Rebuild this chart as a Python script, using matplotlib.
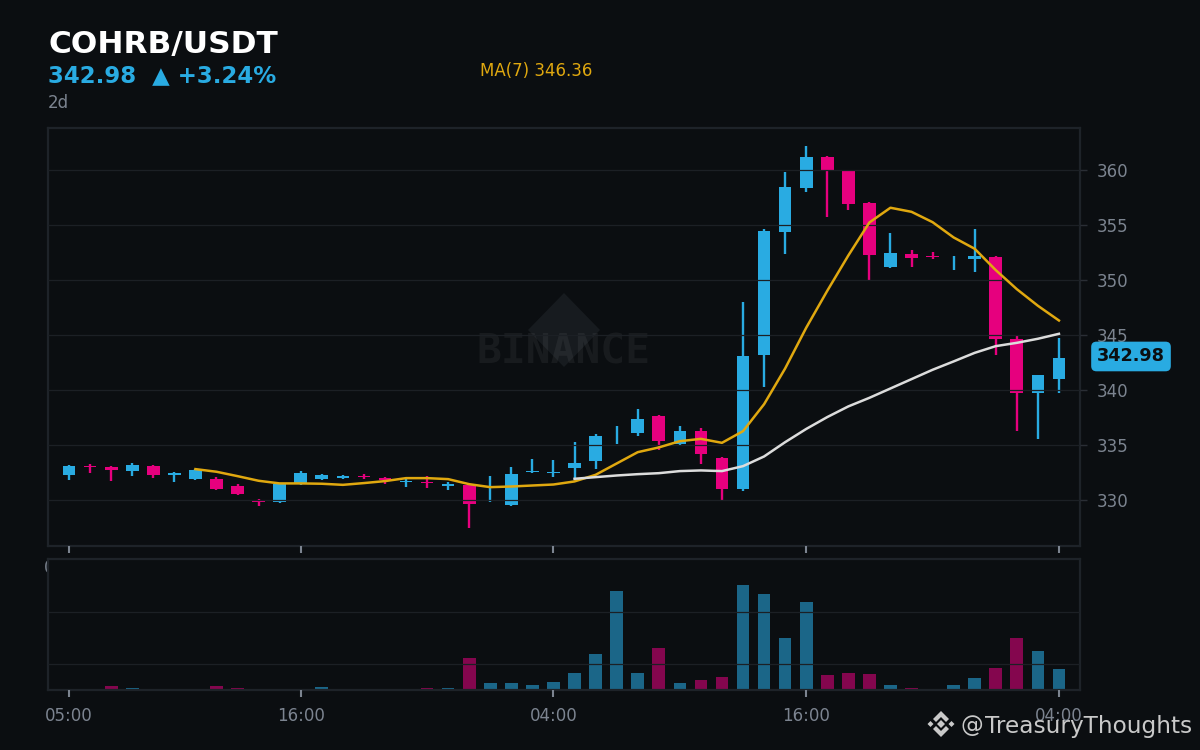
import matplotlib
matplotlib.use("Agg")
import matplotlib.pyplot as plt
from matplotlib.patches import Polygon
from matplotlib.transforms import Affine2D, blended_transform_factory

opens = [332.30,333.12,333.03,332.67,333.12,332.30,331.94,331.94,331.30,329.94,
         329.85,331.58,331.94,332.03,332.18,332.03,331.70,331.67,331.30,331.36,
         331.25,329.58,332.58,332.52,332.94,333.58,335.90,336.12,337.67,335.12,
         336.30,333.85,331.00,343.18,354.39,358.39,361.21,359.94,357.03,351.21,
         352.39,352.21,352.16,351.94,352.12,344.64,339.73,341.00]
closes = [333.12,333.06,332.76,333.21,332.30,332.48,332.76,331.03,330.58,329.88,
          331.48,332.48,332.30,332.21,332.12,331.85,331.76,331.61,331.48,329.67,
          331.25,332.39,332.64,332.58,333.39,335.85,335.90,337.39,335.39,336.30,
          334.21,331.03,343.09,354.48,358.48,361.21,360.03,356.94,352.30,352.48,
          352.03,352.12,352.16,352.21,344.64,339.76,341.36,342.98]
highs = [333.21,333.30,333.12,333.39,333.21,332.58,332.85,332.12,331.48,330.12,
         331.50,332.67,332.39,332.30,332.39,332.12,331.94,332.21,331.67,331.40,
         332.21,333.03,333.76,333.67,335.30,336.03,336.76,338.30,337.76,336.76,
         336.58,333.94,348.00,354.67,359.85,362.21,361.30,360.03,357.12,354.30,
         352.76,352.58,352.21,354.67,352.20,344.91,341.45,344.73]
lows = [331.85,332.48,331.76,332.21,332.03,331.67,331.85,330.94,330.48,329.48,
        329.76,331.39,331.85,331.94,331.94,331.48,331.21,331.12,330.94,327.48,
        329.85,329.48,332.48,332.12,331.94,332.85,335.12,335.85,334.58,335.03,
        333.30,330.03,330.90,340.27,352.39,358.03,355.76,356.39,350.03,351.12,
        351.21,351.94,350.94,350.76,343.18,336.36,335.55,339.73]
ma7 = [332.85,332.61,332.21,331.79,331.55,331.55,331.52,331.42,331.58,331.76,
       332.03,332.03,331.94,331.48,331.21,331.27,331.36,331.45,331.73,332.33,
       333.36,334.39,334.82,335.39,335.60,335.24,336.30,338.75,342.00,345.70,
       349.06,352.27,355.27,356.61,356.24,355.30,353.91,352.88,350.94,349.21,
       347.70,346.36]
ma25 = [331.97,332.12,332.27,332.39,332.48,332.67,332.73,332.67,333.12,334.00,
        335.30,336.50,337.58,338.55,339.33,340.18,341.03,341.88,342.64,343.42,
        344.03,344.33,344.70,345.15]
volumes = [0.7,0.3,3.5,1.5,0.3,0.5,0.1,3.5,1.5,0.1,
           0.3,0.5,2.5,0.1,0.1,0.1,0.5,1.3,1.3,31.3,
           6.3,6.3,4.3,7.3,16.3,35.3,98.3,16.3,41.3,6.3,
           9.3,12.3,104.3,95.3,51.3,87.3,14.3,16.3,15.3,4.3,
           1.3,0.3,4.3,11.3,21.3,51.3,38.3,20.3]
price_ticks = [330,335,340,345,350,355,360]
volume_grid = [25.2,77.2]
time_positions = [0,11,23,35,47]
time_labels = ["05:00","16:00","04:00","16:00","04:00"]

BG = "#0b0e11"
BLUE = "#29abe2"
PINK = "#e6007e"
VBLUE = "#1b6688"
VPINK = "#84064e"
GRID = "#1c2025"
SPINE = "#1e2329"
MUTED = "#7c8490"
YEL = "#e0a80f"
W, H = 1200, 750

fig = plt.figure(figsize=(12, 7.5), dpi=100, facecolor=BG)
ax = fig.add_axes([48/W, 1-546/H, 1032/W, 418/H], facecolor=BG)
vax = fig.add_axes([48/W, 1-690/H, 1032/W, 131/H], facecolor=BG)

xs = list(range(len(closes)))
up = [c >= o for o, c in zip(opens, closes)]
cols = [BLUE if u else PINK for u in up]

ax.vlines(xs, lows, highs, colors=cols, linewidth=1.7, zorder=2)
ax.bar(xs, [abs(c-o) for o, c in zip(opens, closes)],
       bottom=[min(o, c) for o, c in zip(opens, closes)],
       width=0.6, color=cols, linewidth=0, zorder=2.1)
ax.plot(xs[6:], ma7, color=YEL, lw=1.8, zorder=3)
ax.plot(xs[24:], ma25, color="#dcdcdc", lw=1.8, zorder=3.1)

ax.set_xlim(-1, 48)
ax.set_ylim(325.86, 363.86)
ax.yaxis.tick_right()
ax.set_yticks(price_ticks)
ax.set_xticks(time_positions)
ax.set_xticklabels([])
ax.set_axisbelow(False)
ax.grid(axis="y", color=GRID, lw=0.9, zorder=2.5)
ax.tick_params(axis="y", colors=MUTED, labelsize=12, length=5, width=1.0, pad=7, color="#2a2e35")
ax.tick_params(axis="x", color=MUTED, length=5, width=1.5)

vcols = [VBLUE if u else VPINK for u in up]
vax.bar(xs, volumes, width=0.6, color=vcols, linewidth=0, zorder=2)
vax.set_xlim(-1, 48)
vax.set_ylim(-0.7, 130.3)
vax.set_yticks(volume_grid)
vax.set_yticklabels([])
vax.set_xticks(time_positions)
vax.set_xticklabels(time_labels)
vax.set_axisbelow(False)
vax.grid(axis="y", color=GRID, lw=0.9, zorder=2.5)
vax.tick_params(axis="y", length=0)
vax.tick_params(axis="x", colors=MUTED, labelsize=12, length=5, width=1.5, pad=7)

for a in (ax, vax):
    for s in a.spines.values():
        s.set_color(SPINE)
        s.set_linewidth(1.6)

px = Affine2D().scale(1/W, -1/H).translate(0, 1) + fig.transFigure

# watermark
ax.add_patch(Polygon([(564, 293), (600, 330), (564, 367), (528, 330)], closed=True,
                     transform=px, facecolor="#171b1f", edgecolor="none", zorder=0.5, clip_on=False))
ax.text(564, 352, "BINANCE", transform=px, family="DejaVu Sans Mono", weight="bold", fontsize=29.7,
        color="#ffffff", alpha=0.055, ha="center", va="center", zorder=1)

# header
fig.text(49/W, 1-53/H, "COHRB/USDT", color="white", fontsize=22.5, weight="bold", va="baseline")
fig.text(48/W, 1-82/H, "342.98  \u25b2 +3.24%", color=BLUE, fontsize=16.5, weight="bold", va="baseline")
fig.text(48/W, 1-108/H, "2d", color=MUTED, fontsize=12, va="baseline")
fig.text(480/W, 1-76/H, "MA(7) 346.36", color=YEL, fontsize=12, va="baseline")

# last price badge
tr = blended_transform_factory(fig.transFigure, ax.transData) + Affine2D().translate(0, 1.2)
ax.text(1131/W, closes[-1], "342.98", transform=tr, ha="center", va="center", color=BG,
        fontsize=12.7, weight="bold", zorder=6, clip_on=False,
        bbox=dict(boxstyle="round,pad=0.33,rounding_size=0.3", fc=BLUE, ec="none"))

# clipped label peeking out behind the volume panel
fig.text(44/W, 1-573/H, "0", color=MUTED, fontsize=12, zorder=-1, va="baseline")

# footer logo and handle
LOGO = "#c9c9c9"
logo_shapes = [
    [(941, 720), (945, 724), (941, 728), (937, 724)],
    [(930.5, 721), (933.5, 724), (930.5, 727), (927.5, 724)],
    [(951.5, 721), (954.5, 724), (951.5, 727), (948.5, 724)],
    [(941, 711), (949, 719), (946, 722), (941, 717), (936, 722), (933, 719)],
    [(941, 737), (949, 729), (946, 726), (941, 731), (936, 726), (933, 729)],
]
for pts in logo_shapes:
    fig.add_artist(Polygon(pts, closed=True, transform=px, facecolor=LOGO, edgecolor="none", zorder=5))
fig.text(960/W, 1-732.5/H, "@", color=LOGO, fontsize=16.3, va="baseline", zorder=5)
fig.text(985/W, 1-732.5/H, "TreasuryThoughts", color=LOGO, fontsize=16.7, va="baseline", zorder=5)

fig.savefig("out.png", dpi=100, facecolor=BG)
